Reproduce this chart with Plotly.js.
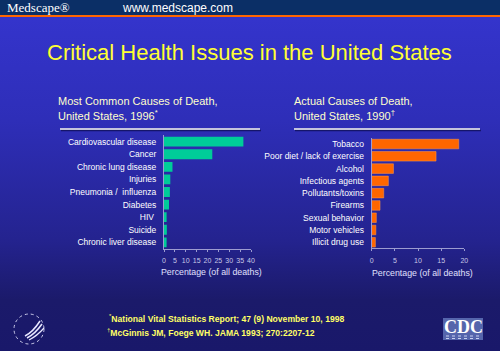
<!DOCTYPE html>
<html>
<head>
<meta charset="utf-8">
<script src="https://cdn.plot.ly/plotly-3.0.1.min.js"></script>
<style>
html,body{margin:0;padding:0;}
body{width:500px;height:351px;overflow:hidden;background:linear-gradient(to bottom,#0b2f66 0px,#0b2f66 15px,#ff6600 15px,#ff6600 17px,#3434cc 17px,#2e2eb8 120px,#24238f 240px,#1b1a6a 300px,#19186a 351px);}
#chart{width:500px;height:351px;}
</style>
</head>
<body>
<div id="chart"></div>
<script>
// Left chart: Most Common Causes of Death, United States, 1996
var causes1996 = ["Cardiovascular disease","Cancer","Chronic lung disease","Injuries","Pneumonia /  influenza","Diabetes","HIV ","Suicide","Chronic liver disease"];
var pct1996 = [36.5, 22.2, 3.9, 2.9, 2.7, 2.3, 1.2, 1.3, 1.2];
var ticks1996 = [0,5,10,15,20,25,30,35,40];

// Right chart: Actual Causes of Death, United States, 1990
var causes1990 = ["Tobacco","Poor diet / lack of exercise","Alcohol","Infectious agents","Pollutants/toxins","Firearms","Sexual behavior","Motor vehicles","Illicit drug use"];
var pct1990 = [18.8, 13.9, 4.7, 3.6, 2.6, 1.8, 1.0, 0.9, 0.8];
var ticks1990 = [0,5,10,15,20];

var FONT = "Liberation Sans, Arial, sans-serif";
var SERIF = "Liberation Serif, Times New Roman, serif";

var traces = [
  {type:"bar", orientation:"h", x:pct1996, y:causes1996, xaxis:"x", yaxis:"y",
   marker:{color:"#00cc99"}, hoverinfo:"none"},
  {type:"bar", orientation:"h", x:pct1990, y:causes1990, xaxis:"x2", yaxis:"y2",
   marker:{color:"#ff6600", line:{color:"#ff9a4d", width:0.5}}, hoverinfo:"none"}
];

function xax(domain, ticks, anchor){
  return {domain:domain, range:[0, ticks[ticks.length-1]], anchor:anchor,
    tickvals:ticks, ticktext:ticks.map(String), showgrid:false, zeroline:false,
    showline:true, linecolor:"#9c9cd0", linewidth:1, ticks:"outside", ticklen:2,
    tickcolor:"#9c9cd0", tickfont:{family:FONT, size:7, color:"#c8c8e6"}, ticklabelstandoff:3, fixedrange:true};
}
function yax(domain, anchor){
  return {domain:domain, anchor:anchor, autorange:"reversed", showgrid:false, zeroline:false,
    showline:true, linecolor:"#9c9cd0", linewidth:1, ticks:"", ticklabelstandoff:5,
    tickfont:{family:FONT, size:8.5, color:"#ffffff"}, fixedrange:true};
}

var ann = [];
function txt(x,y,text,size,color,anchor,family){
  ann.push({xref:"paper", yref:"paper", x:x/500, y:1-y/351, text:text, showarrow:false,
    xanchor:anchor||"left", yanchor:"middle", font:{family:family||FONT, size:size, color:color}});
}
txt(5, 8, "Medscape®", 13, "#ffffff", "left", SERIF);
txt(120, 8, "www.medscape.com", 12, "#ffffff", "left");
txt(249, 52, "Critical Health Issues in the United States", 22, "#ffff33", "center");
txt(56, 101, "Most Common Causes of Death,", 11, "#ffffcc", "left");
txt(56, 115, "United States, 1996<sup>*</sup>", 11, "#ffffcc", "left");
txt(292, 101, "Actual Causes of Death,", 11, "#ffffcc", "left");
txt(292, 115, "United States, 1990<sup>†</sup>", 11, "#ffffcc", "left");
txt(211, 272, "Percentage (of all deaths)", 8.8, "#e0e0ff", "center");
txt(422, 273, "Percentage (of all deaths)", 8.8, "#e0e0ff", "center");
txt(107, 318, "<sup>*</sup><b>National Vital Statistics Report; 47 (9) November 10, 1998</b>", 8.6, "#ffff66", "left");
txt(105, 332, "<sup>†</sup><b>McGinnis JM, Foege WH. JAMA 1993; 270:2207-12</b>", 8.6, "#ffff66", "left");
txt(463, 327, "<b>CDC</b>", 18, "#ffffff", "center", SERIF);

function px(x){return x/500;}
function py(y){return 1-y/351;}
var shapes = [
  // separator lines under subtitles
  {type:"line", xref:"paper", yref:"paper", x0:px(61), x1:px(261), y0:py(130.5), y1:py(130.5), line:{color:"#15156a", width:1.5}},
  {type:"line", xref:"paper", yref:"paper", x0:px(60), x1:px(260), y0:py(129), y1:py(129), line:{color:"#c4c4dc", width:2}},
  {type:"line", xref:"paper", yref:"paper", x0:px(295), x1:px(481), y0:py(130.5), y1:py(130.5), line:{color:"#15156a", width:1.5}},
  {type:"line", xref:"paper", yref:"paper", x0:px(294), x1:px(480), y0:py(129), y1:py(129), line:{color:"#c4c4dc", width:2}},
  // HHS logo (approximate)
  {type:"circle", xref:"paper", yref:"paper", x0:px(14), x1:px(44), y0:py(344), y1:py(314), line:{color:"#c8c8e8", width:1, dash:"dot"}},
  {type:"path", xref:"paper", yref:"paper", path:"M "+px(25)+" "+py(336)+" Q "+px(33)+" "+py(332)+" "+px(40)+" "+py(321), line:{color:"#e8e8ff", width:1.5}},
  {type:"path", xref:"paper", yref:"paper", path:"M "+px(27)+" "+py(338)+" Q "+px(35)+" "+py(334)+" "+px(42)+" "+py(324), line:{color:"#e8e8ff", width:1.5}},
  {type:"path", xref:"paper", yref:"paper", path:"M "+px(29)+" "+py(340)+" Q "+px(37)+" "+py(336)+" "+px(44)+" "+py(328), line:{color:"#e8e8ff", width:1.2}},
  // CDC box
  {type:"rect", xref:"paper", yref:"paper", x0:px(443), x1:px(483), y0:py(340), y1:py(318), fillcolor:"#5565ac", line:{width:0}, layer:"below"},
  {type:"line", xref:"paper", yref:"paper", x0:px(446), x1:px(480), y0:py(336), y1:py(336), line:{color:"#c8d0f0", width:1, dash:"dot"}},
  {type:"line", xref:"paper", yref:"paper", x0:px(446), x1:px(480), y0:py(338.5), y1:py(338.5), line:{color:"#c8d0f0", width:1, dash:"dot"}}
];

var layout = {
  width:500, height:351, autosize:false,
  margin:{l:0, r:0, t:0, b:0},
  paper_bgcolor:"rgba(0,0,0,0)", plot_bgcolor:"rgba(0,0,0,0)",
  showlegend:false, bargap:0.22,
  xaxis: xax([164/500, 251/500], ticks1996, "y"),
  yaxis: yax([1-248.6/351, 1-135.4/351], "x"),
  xaxis2: xax([371.7/500, 464.3/500], ticks1990, "y2"),
  yaxis2: yax([1-248.4/351, 1-137.9/351], "x2"),
  annotations: ann, shapes: shapes
};

Plotly.newPlot("chart", traces, layout, {displayModeBar:false, staticPlot:true});
</script>
</body>
</html>
